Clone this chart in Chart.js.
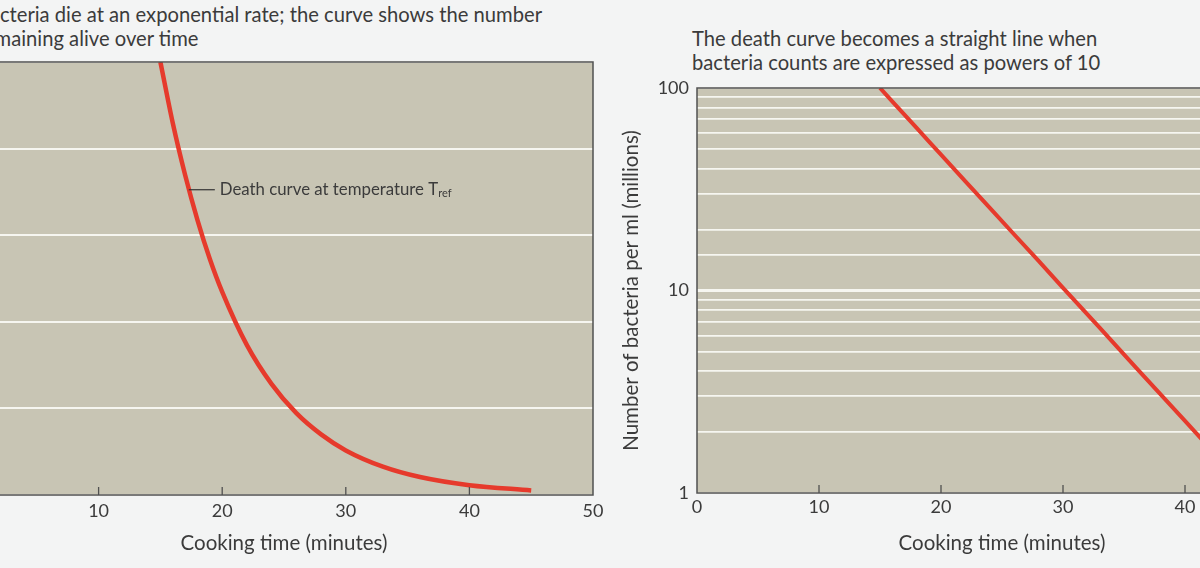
<!DOCTYPE html>
<html><head><meta charset="utf-8">
<script src="https://cdn.jsdelivr.net/npm/chart.js@4.4.1/dist/chart.umd.min.js"></script>
<style>
html,body{margin:0;padding:0;width:1200px;height:568px;overflow:hidden;background:#f3f4f4;}
body{position:relative;font-family:Lato,"Open Sans",sans-serif;color:#3b3b3b;}
.title{position:absolute;font-size:20.2px;line-height:24px;white-space:nowrap;}
#c1{position:absolute;left:-120px;top:0;}
#c2{position:absolute;left:600px;top:0;}
</style></head>
<body>
<div class="title" style="left:-23px;top:2px">Bacteria die at an exponential rate; the curve shows the number<br>remaining alive over time</div>
<div class="title" style="left:692px;top:26px">The death curve becomes a straight line when<br>bacteria counts are expressed as powers of 10</div>
<canvas id="c1" width="740" height="568"></canvas>
<canvas id="c2" width="760" height="568"></canvas>
<script>
// Data
const cookingTime = [15, 16, 17, 18, 19, 20, 22, 24, 26, 28, 30, 33, 36, 40, 45];
const bacteriaMillions = [100, 85.9, 73.9, 63.5, 54.5, 46.9, 34.6, 25.6, 18.9, 14.0, 10.3, 6.55, 4.15, 2.27, 1.06];
const xTicks = [0, 10, 20, 30, 40, 50];
const linearYTicks = [0, 20, 40, 60, 80, 100];
const logYLabels = [1, 10, 100];
const curveLabel = 'Death curve at temperature T';
const curveLabelSub = 'ref';
const labelAnchorTime = 17.3;
const labelAnchorCount = 70.5;

const FONT = 'Lato, "Open Sans", sans-serif';
const TEXT = '#3b3b3b';
const PLOT_BG = '#c8c5b4';
const GRID = '#f6f6f0';
const RED = '#e63a2c';
const FRAME = '#505050';

const points = cookingTime.map((t, i) => ({x: t, y: bacteriaMillions[i]}));

const panelPlugin = {
  id: 'panel',
  beforeDraw(chart) {
    const a = chart.chartArea, ctx = chart.ctx;
    ctx.save();
    ctx.fillStyle = PLOT_BG;
    ctx.fillRect(a.left, a.top, a.right - a.left, a.bottom - a.top);
    ctx.restore();
  },
  afterDraw(chart) {
    const a = chart.chartArea, ctx = chart.ctx, xs = chart.scales.x;
    ctx.save();
    ctx.strokeStyle = FRAME;
    ctx.lineWidth = 1.5;
    ctx.strokeRect(a.left, a.top, a.right - a.left, a.bottom - a.top);
    ctx.lineWidth = 1.3;
    xTicks.forEach(v => {
      const px = xs.getPixelForValue(v);
      if (px > a.left + 2 && px < a.right - 2) {
        ctx.beginPath();
        ctx.moveTo(px, a.bottom);
        ctx.lineTo(px, a.bottom - 8);
        ctx.stroke();
      }
    });
    const opts = chart.options.plugins.panel || {};
    if (opts.annotate) {
      const px = xs.getPixelForValue(labelAnchorTime);
      const py = chart.scales.y.getPixelForValue(labelAnchorCount);
      ctx.strokeStyle = '#333';
      ctx.lineWidth = 1.2;
      ctx.beginPath();
      ctx.moveTo(px, py);
      ctx.lineTo(px + 26, py);
      ctx.stroke();
      ctx.fillStyle = TEXT;
      ctx.textBaseline = 'middle';
      ctx.font = '16.8px ' + FONT;
      ctx.fillText(curveLabel, px + 31, py);
      const w = ctx.measureText(curveLabel).width;
      ctx.font = '11px ' + FONT;
      ctx.fillText(curveLabelSub, px + 31 + w, py + 4);
    }
    ctx.restore();
  }
};

const tickFont = {family: FONT, size: 18};
const titleFont = {family: FONT, size: 20.5};
const noSidePad = s => { s.paddingLeft = 0; s.paddingRight = 0; };

new Chart(document.getElementById('c1'), {
  type: 'line',
  data: {datasets: [{data: points, borderColor: RED, borderWidth: 4.5, pointRadius: 0,
    cubicInterpolationMode: 'monotone', fill: false, borderCapStyle: 'butt'}]},
  options: {
    responsive: false, animation: false,
    layout: {padding: {top: 62, right: 27, left: 0, bottom: 0}},
    plugins: {legend: {display: false}, tooltip: {enabled: false}, panel: {annotate: true}},
    scales: {
      x: {type: 'linear', min: 0, max: 50,
        afterBuildTicks: s => { s.ticks = xTicks.map(v => ({value: v})); },
        grid: {display: false, drawTicks: false}, border: {display: false},
        ticks: {font: tickFont, color: TEXT, padding: 5, maxRotation: 0, autoSkip: false},
        title: {display: true, text: 'Cooking time (minutes)', font: titleFont, color: TEXT, padding: {top: 0, bottom: 12}},
        afterFit: s => { s.height = 73; noSidePad(s); }},
      y: {type: 'linear', min: 0, max: 100,
        afterBuildTicks: s => { s.ticks = linearYTicks.map(v => ({value: v})); },
        grid: {color: GRID, lineWidth: 2, drawTicks: false}, border: {display: false},
        ticks: {font: tickFont, color: TEXT, padding: 8},
        title: {display: true, text: 'Number of bacteria per ml (millions)', font: titleFont, color: TEXT},
        afterFit: s => { s.width = 95; }}
    }
  },
  plugins: [panelPlugin]
});

new Chart(document.getElementById('c2'), {
  type: 'line',
  data: {datasets: [{data: points, borderColor: RED, borderWidth: 4, pointRadius: 0,
    tension: 0, fill: false, borderCapStyle: 'butt'}]},
  options: {
    responsive: false, animation: false,
    layout: {padding: {top: 88, right: 53, left: 0, bottom: 0}},
    plugins: {legend: {display: false}, tooltip: {enabled: false}, panel: {annotate: false}},
    scales: {
      x: {type: 'linear', min: 0, max: 50,
        afterBuildTicks: s => { s.ticks = xTicks.map(v => ({value: v})); },
        grid: {display: false, drawTicks: false}, border: {display: false},
        ticks: {font: tickFont, color: TEXT, padding: 3, maxRotation: 0, autoSkip: false},
        title: {display: true, text: 'Cooking time (minutes)', font: titleFont, color: TEXT, padding: {top: 0, bottom: 12}},
        afterFit: s => { s.height = 75; noSidePad(s); }},
      y: {type: 'logarithmic', min: 1, max: 100,
        grid: {color: GRID, drawTicks: false,
          lineWidth: c => (c.tick && c.tick.value === 10) ? 3 : 1.8},
        border: {display: false},
        ticks: {font: tickFont, color: TEXT, padding: 8, autoSkip: false,
          callback: v => logYLabels.includes(v) ? String(v) : ''},
        title: {display: true, text: 'Number of bacteria per ml (millions)', font: titleFont, color: TEXT, padding: {top: 19, bottom: 0}},
        afterFit: s => { s.width = 97; }}
    }
  },
  plugins: [panelPlugin]
});
</script>
</body></html>
